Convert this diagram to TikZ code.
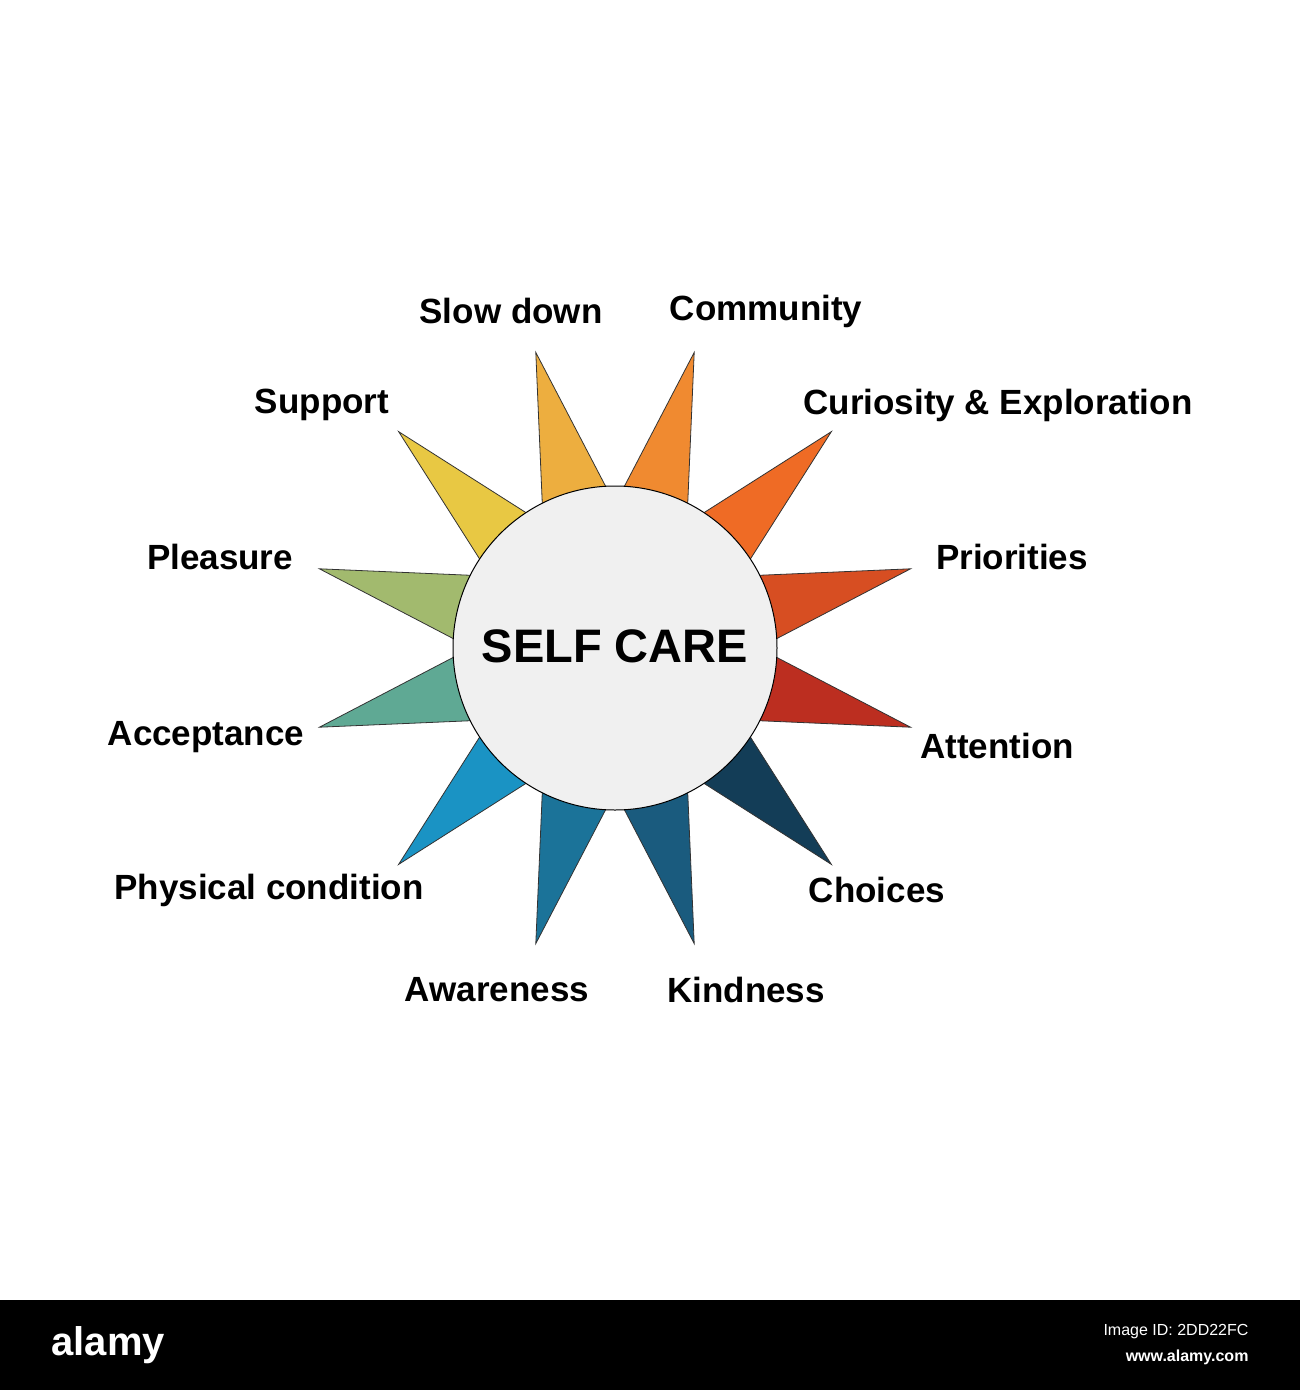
\documentclass[tikz,border=0pt]{standalone}
\usepackage{fontspec}
\setmainfont{Liberation Sans}
\usetikzlibrary{calc}
\begin{document}
\begin{tikzpicture}[x=1pt,y=-1pt,
  lbl/.style={font=\fontsize{35}{40}\selectfont\bfseries, inner sep=0pt},
  spike/.style={draw=black!80, line width=0.8pt}]
\useasboundingbox (0,0) rectangle (1300,1390);
\fill[white] (0,0) rectangle (1300,1390);
\definecolor{c1}{HTML}{EDAE3F}\definecolor{c2}{HTML}{F08A30}
\definecolor{c3}{HTML}{EF6B25}\definecolor{c4}{HTML}{D74E22}
\definecolor{c5}{HTML}{BC2E20}\definecolor{c6}{HTML}{133D57}
\definecolor{c7}{HTML}{1A5B7E}\definecolor{c8}{HTML}{1B7399}
\definecolor{c9}{HTML}{1A93C4}\definecolor{c10}{HTML}{5FA994}
\definecolor{c11}{HTML}{A2BA6E}\definecolor{c12}{HTML}{E8C843}
\coordinate (O) at (615,648);
\foreach \a/\c in {105/c1,75/c2,45/c3,15/c4,-15/c5,-45/c6,-75/c7,-105/c8,-135/c9,-165/c10,165/c11,135/c12}{
  \draw[spike, fill=\c] ($(O)+({cos(\a+12)*160},{-sin(\a+12)*160})$) -- ($(O)+({cos(\a)*306},{-sin(\a)*306})$) -- ($(O)+({cos(\a-12)*160},{-sin(\a-12)*160})$) -- cycle;
}
\node[circle, draw=black, line width=1pt, fill=black!6, minimum size=324pt, inner sep=0pt] (center) at (O) {};
\node[font=\fontsize{47}{52}\selectfont\bfseries] (title) at (615,646) {SELF CARE};
\node[lbl] (l1) at (511,311) {Slow down};
\node[lbl] (l2) at (766,311) {Community};
\node[lbl] (l3) at (998,405) {Curiosity \& Exploration};
\node[lbl] (l4) at (1012,557) {Priorities};
\node[lbl] (l5) at (997,746) {Attention};
\node[lbl] (l6) at (877,890) {Choices};
\node[lbl] (l7) at (746,990) {Kindness};
\node[lbl] (l8) at (497,990) {Awareness};
\node[lbl] (l9) at (269,890) {Physical condition};
\node[lbl] (l10) at (206,737) {Acceptance};
\node[lbl] (l11) at (220,557) {Pleasure};
\node[lbl] (l12) at (322,405) {Support};
\fill[black] (0,1300) rectangle (1300,1390);
\node[white, font=\fontsize{40}{44}\selectfont\bfseries, anchor=west] (logo) at (48,1345) {alamy};
\node[white, font=\fontsize{16}{18}\selectfont, anchor=east] (id) at (1252,1332) {Image ID: 2DD22FC};
\node[white, font=\fontsize{16}{18}\selectfont\bfseries, anchor=east] (url) at (1252,1357) {www.alamy.com};
\end{tikzpicture}
\end{document}
